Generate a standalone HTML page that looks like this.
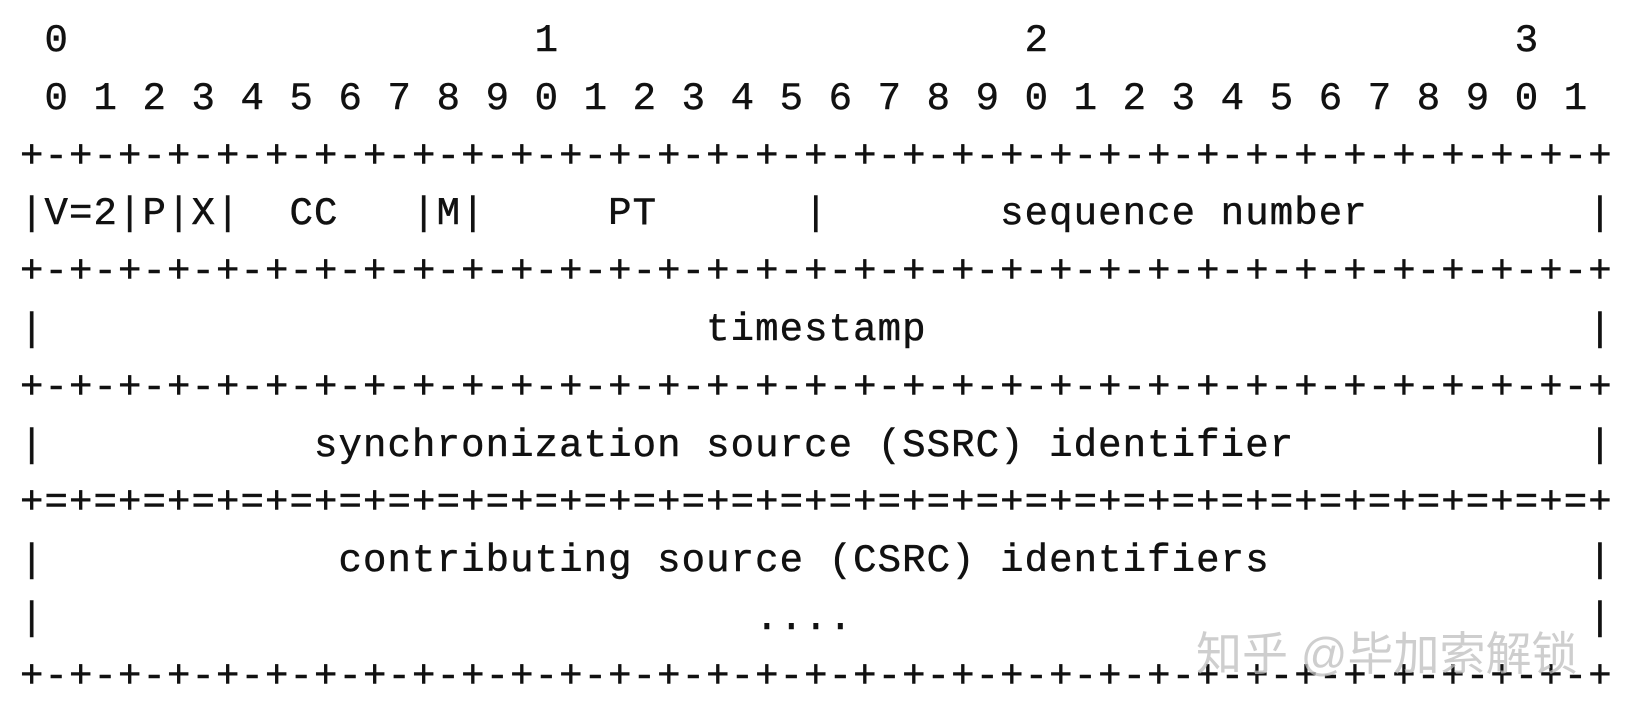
<!DOCTYPE html>
<html><head><meta charset="utf-8"><style>
html,body{margin:0;padding:0;background:#fff;width:1636px;height:712px;overflow:hidden;position:relative}
pre{position:absolute;left:20px;top:13px;margin:0;font-family:"Liberation Mono",monospace;font-size:39px;letter-spacing:1.1px;line-height:57.8px;color:#111;-webkit-text-stroke:0.5px #111}
.wm{position:absolute;left:1196px;top:618px;font-family:"Liberation Sans","Noto Sans CJK SC",sans-serif;font-size:46px;color:rgba(190,190,190,0.75);white-space:nowrap}
</style></head><body>
<pre> 0                   1                   2                   3
 0 1 2 3 4 5 6 7 8 9 0 1 2 3 4 5 6 7 8 9 0 1 2 3 4 5 6 7 8 9 0 1
+-+-+-+-+-+-+-+-+-+-+-+-+-+-+-+-+-+-+-+-+-+-+-+-+-+-+-+-+-+-+-+-+
|V=2|P|X|  CC   |M|     PT      |       sequence number         |
+-+-+-+-+-+-+-+-+-+-+-+-+-+-+-+-+-+-+-+-+-+-+-+-+-+-+-+-+-+-+-+-+
|                           timestamp                           |
+-+-+-+-+-+-+-+-+-+-+-+-+-+-+-+-+-+-+-+-+-+-+-+-+-+-+-+-+-+-+-+-+
|           synchronization source (SSRC) identifier            |
+=+=+=+=+=+=+=+=+=+=+=+=+=+=+=+=+=+=+=+=+=+=+=+=+=+=+=+=+=+=+=+=+
|            contributing source (CSRC) identifiers             |
|                             ....                              |
+-+-+-+-+-+-+-+-+-+-+-+-+-+-+-+-+-+-+-+-+-+-+-+-+-+-+-+-+-+-+-+-+</pre>
<div class="wm">知乎 @毕加索解锁</div>
</body></html>
